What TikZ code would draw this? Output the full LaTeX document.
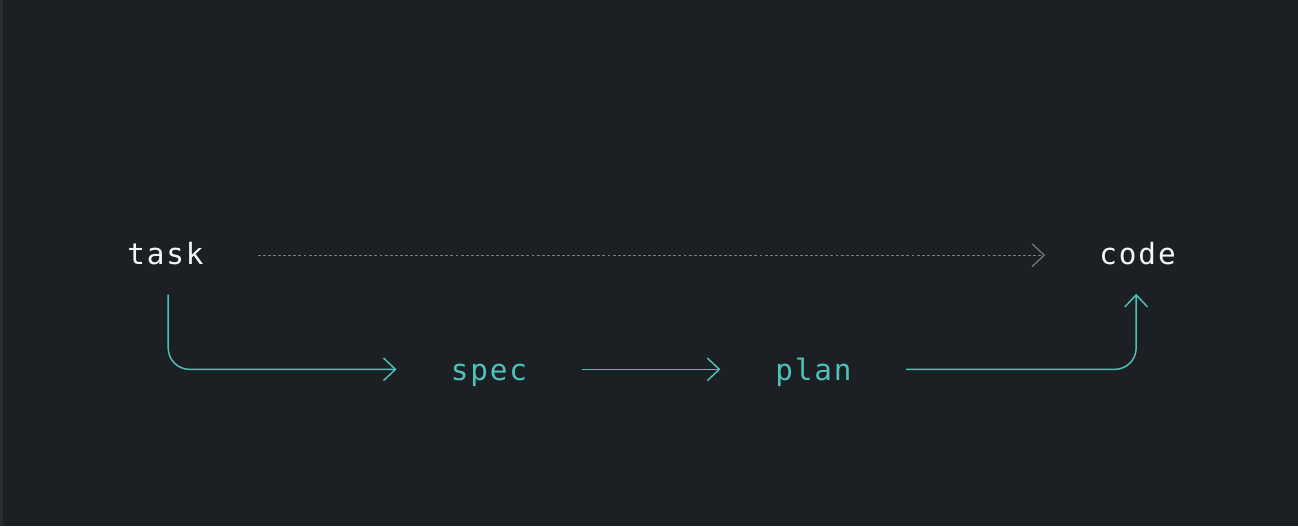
\documentclass[tikz,border=0pt]{standalone}
\usepackage{fontspec}
\newfontfamily\mono[LetterSpace=6.5]{DejaVu Sans Mono}
\usetikzlibrary{arrows.meta}
\definecolor{bg}{HTML}{1C1F23}
\definecolor{edge}{HTML}{2B2B2C}
\definecolor{teal}{HTML}{4CC2B8}
\definecolor{txt}{HTML}{F6F6F6}
\definecolor{dim}{HTML}{7A7C80}
\tikzset{
  word/.style={inner sep=0pt, font=\mono\fontsize{22}{25}\selectfont, anchor=base},
  mainword/.style={word, text=txt},
  stageword/.style={word, text=teal},
  flow/.style={draw=teal, line width=1.1pt, rounded corners=16pt,
    -{Straight Barb[length=9pt,width=17pt,line width=1.1pt]}},
  shortcut/.style={draw=dim, line width=0.9pt, dash pattern=on 2.2pt off 1.6pt,
    -{Straight Barb[length=9pt,width=17pt,line width=0.9pt]}}
}
\begin{document}
\begin{tikzpicture}[x=0.75pt,y=-0.75pt]
\useasboundingbox (0,0) rectangle (1298,526);
\fill[bg] (0,0) rectangle (1298,526);
\fill[edge] (0,0) rectangle (3,526);
\node[mainword] (task) at (165.5,264.5) {task};
\node[mainword] (code) at (1137.5,264.5) {code};
\node[stageword] (spec) at (489,380) {spec};
\node[stageword] (plan) at (813.5,380) {plan};
\coordinate (s1) at ([xshift=40.5pt,yshift=7pt]task.base east);
\coordinate (s2) at ([xshift=-40.5pt,yshift=7pt]code.base west);
\draw[shortcut] (s1) -- (s2);
\draw[flow] ([xshift=2pt,yshift=-22.5pt]task.base) |- ([xshift=-40.5pt,yshift=8pt]spec.base west);
\draw[flow] ([xshift=41pt,yshift=8pt]spec.base east) -- ([xshift=-41pt,yshift=8pt]plan.base west);
\draw[flow] ([xshift=40.5pt,yshift=8pt]plan.base east) -| ([xshift=-1pt,yshift=-22pt]code.base);
\end{tikzpicture}
\end{document}
